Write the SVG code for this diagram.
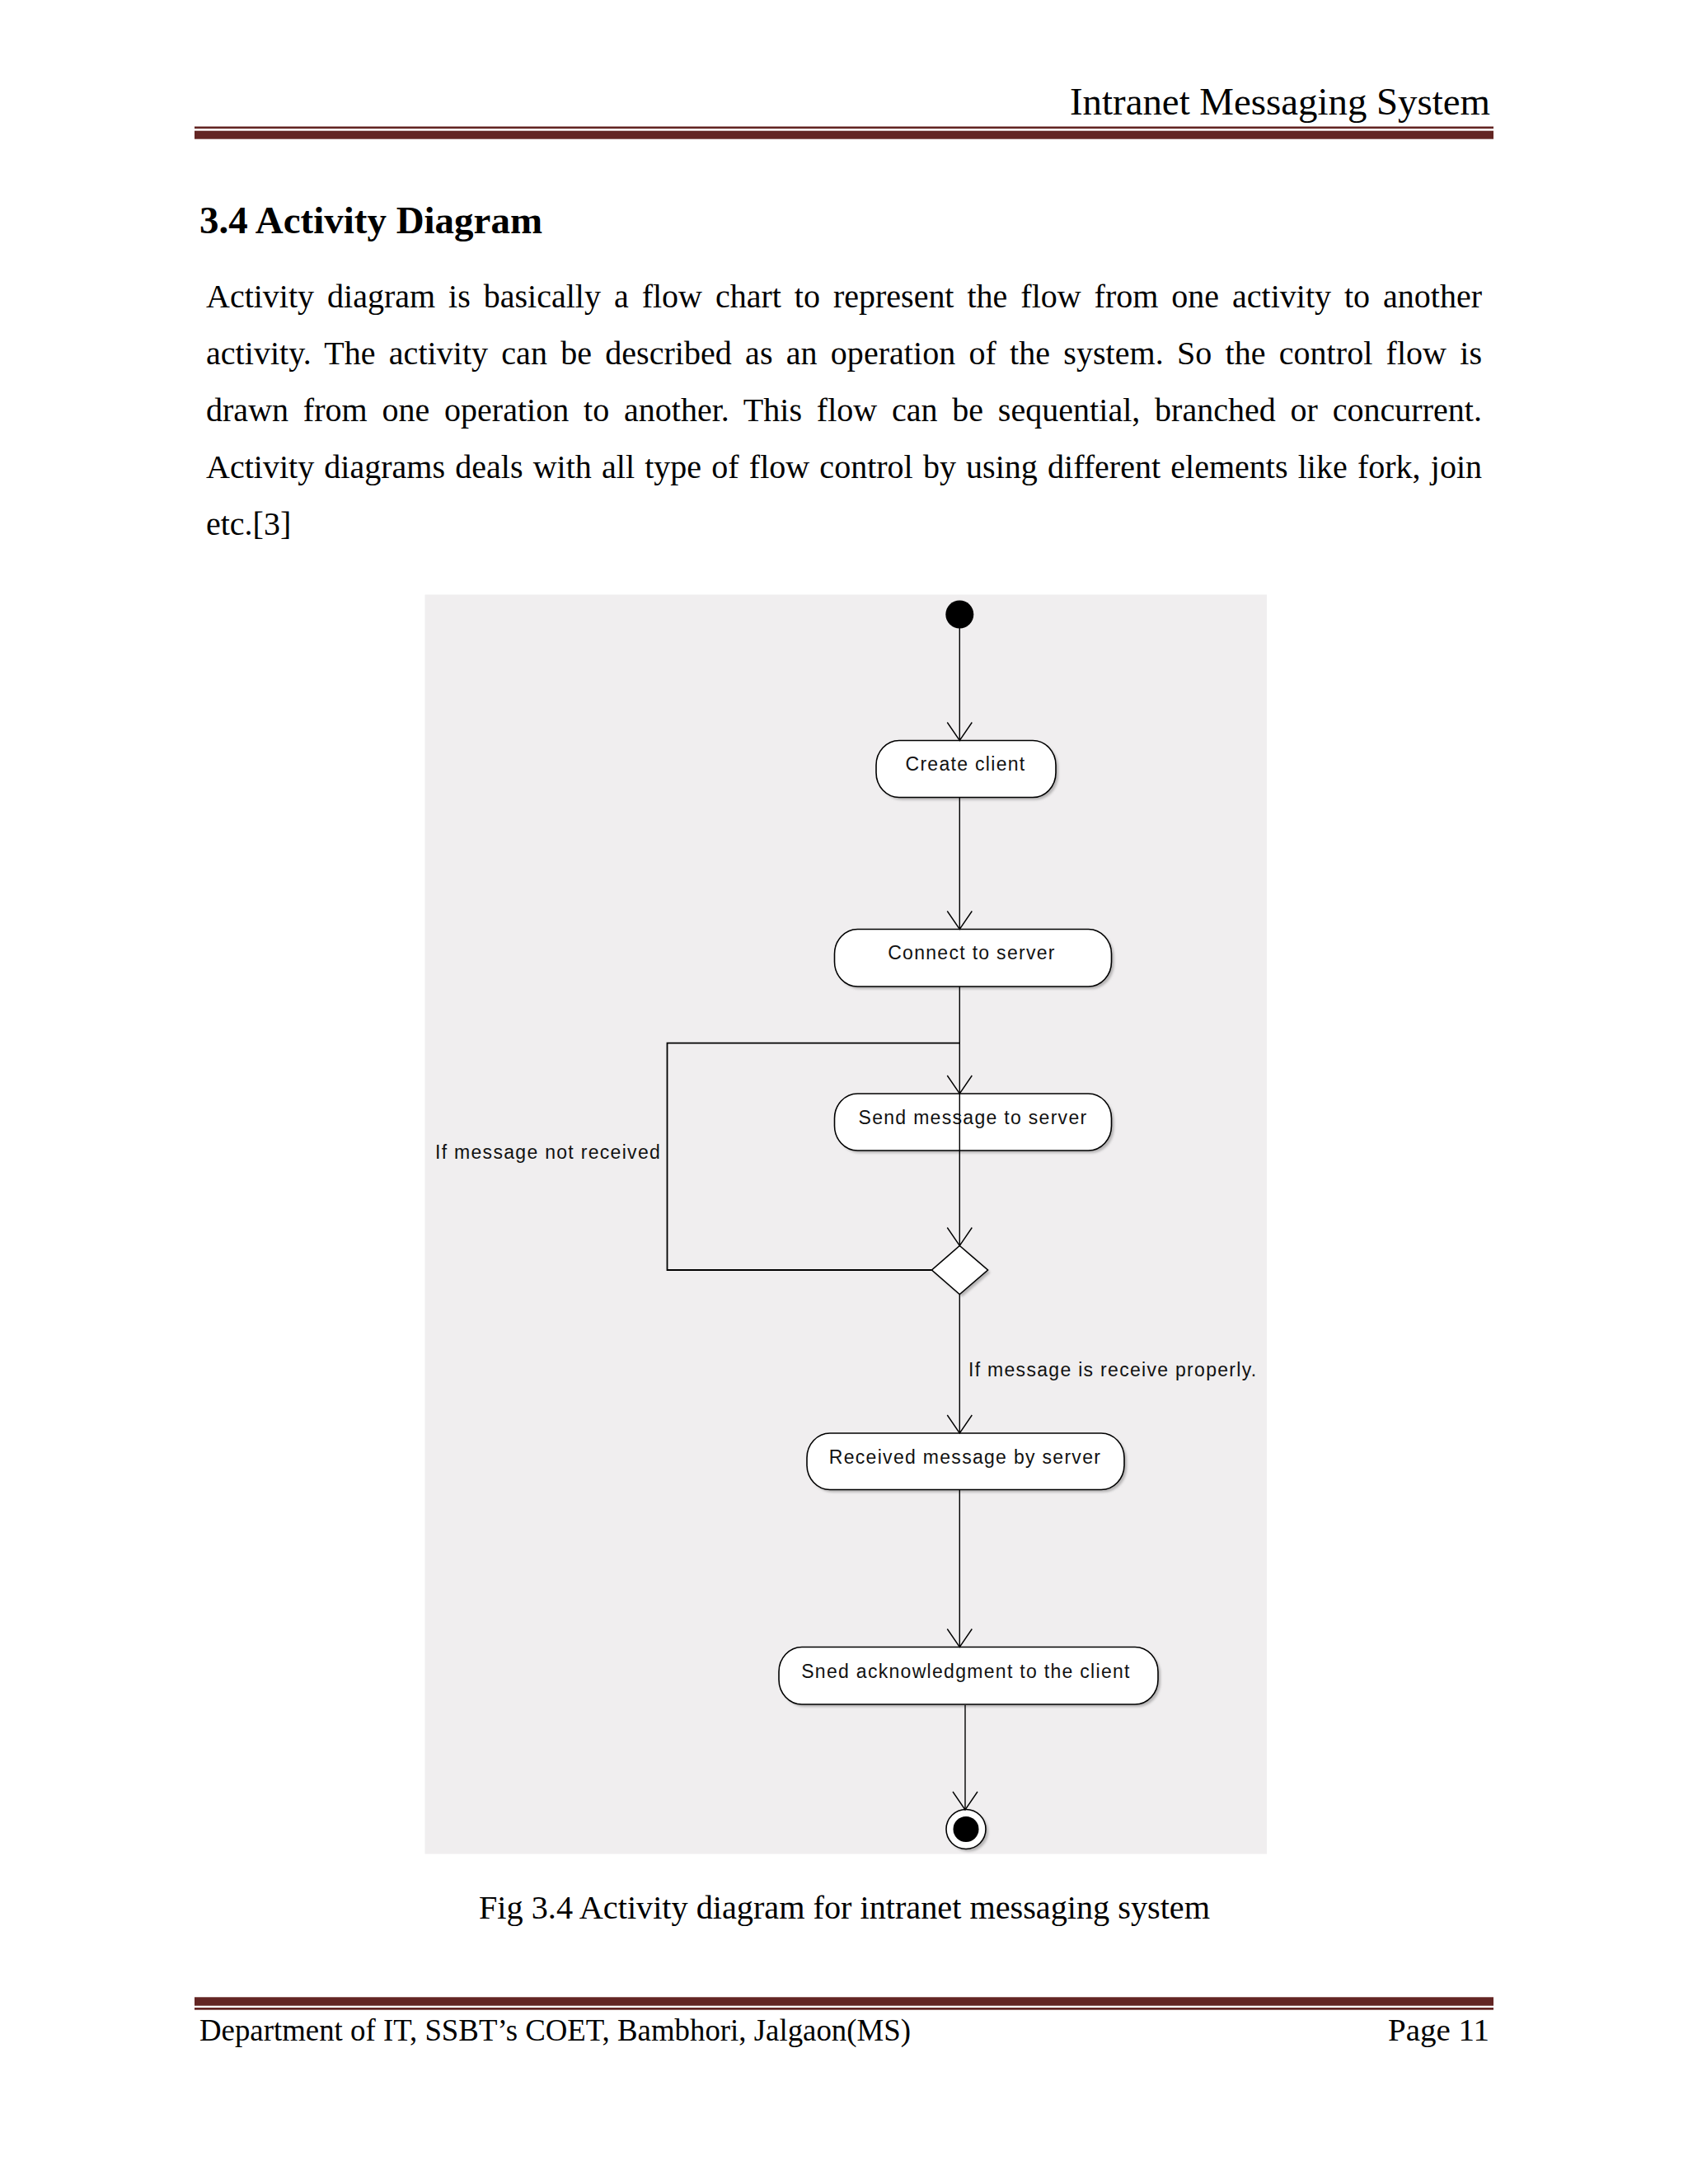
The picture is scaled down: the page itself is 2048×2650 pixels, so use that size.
<svg xmlns="http://www.w3.org/2000/svg" width="2048" height="2650" viewBox="0 0 2048 2650">
<defs>
<style>
.page{font-family:"Liberation Serif","Times New Roman",serif;fill:#000}
.body{font-size:40px}
.lbl{font-family:"Liberation Sans",Arial,sans-serif;font-size:23px;letter-spacing:1.3px;fill:#111}
.node{fill:#fff;stroke:#000;stroke-width:1.6}
.shadow{fill:#b4b2b3;filter:url(#blur)}
.conn{fill:none;stroke:#000;stroke-width:1.4}
.loop{stroke-width:1.8}
.bar{fill:#632523}
</style>
<filter id="blur" x="-10%" y="-20%" width="130%" height="150%"><feGaussianBlur stdDeviation="1.4"/></filter>
<marker id="arr" markerUnits="userSpaceOnUse" orient="auto" refX="0" refY="0" markerWidth="30" markerHeight="40" style="overflow:visible"><path d="M-22,-15 L0,0 L-22,15" fill="none" stroke="#000" stroke-width="1.4"/></marker>
</defs>
<rect x="0" y="0" width="2048" height="2650" fill="#ffffff"/>

<g id="page-header">
<text class="page" x="1298" y="139" font-size="47" textLength="510" lengthAdjust="spacingAndGlyphs">Intranet Messaging System</text>
<rect class="bar" x="236" y="153.5" width="1576" height="2.6"/>
<rect class="bar" x="236" y="158.7" width="1576" height="10"/>
</g>

<g id="section-text">
<text class="page" x="242" y="283" font-size="46" font-weight="bold" textLength="416" lengthAdjust="spacingAndGlyphs">3.4 Activity Diagram</text>
<text class="page body" x="250" y="373" word-spacing="6" textLength="1548" lengthAdjust="spacing">Activity diagram is basically a flow chart to represent the flow from one activity to another</text>
<text class="page body" x="250" y="442" word-spacing="6.2" textLength="1548" lengthAdjust="spacing">activity. The activity can be described as an operation of the system. So the control flow is</text>
<text class="page body" x="250" y="511" word-spacing="7.7" textLength="1548" lengthAdjust="spacing">drawn from one operation to another. This flow can be sequential, branched or concurrent.</text>
<text class="page body" x="250" y="580" word-spacing="2.2" textLength="1548" lengthAdjust="spacing">Activity diagrams deals with all type of flow control by using different elements like fork, join</text>
<text class="page body" x="250" y="649">etc.[3]</text>
</g>

<rect id="diagram-bg" x="515.5" y="721.5" width="1021.5" height="1528" fill="#f0eeef"/>

<g id="initial">
<circle cx="1164.3" cy="745.5" r="17" fill="#000"/>
</g>

<g id="create-client">
<rect class="shadow" x="1066" y="901.5" width="218" height="69" rx="28" ry="30"/>
<rect class="node" x="1063" y="898.5" width="218" height="69" rx="28" ry="30"/>
<text class="lbl" x="1171.5" y="935" text-anchor="middle">Create client</text>
</g>

<g id="connect-server">
<rect class="shadow" x="1015.5" y="1130.5" width="336" height="69.5" rx="28" ry="30"/>
<rect class="node" x="1012.5" y="1127.5" width="336" height="69.5" rx="28" ry="30"/>
<text class="lbl" x="1179" y="1164" text-anchor="middle">Connect to server</text>
</g>

<g id="send-message">
<rect class="shadow" x="1015.5" y="1330" width="336" height="69" rx="28" ry="30"/>
<rect class="node" x="1012.5" y="1327" width="336" height="69" rx="28" ry="30"/>
<text class="lbl" x="1180.5" y="1364" text-anchor="middle">Send message to server</text>
</g>

<g id="decision">
<polygon class="shadow" points="1167.3,1514.5 1201.5,1544 1167.3,1573.5 1133.5,1544"/>
<polygon class="node" points="1164.3,1511.5 1198.5,1541 1164.3,1570.5 1130.5,1541"/>
</g>

<g id="received-message">
<rect class="shadow" x="982" y="1742" width="385" height="68.5" rx="28" ry="30"/>
<rect class="node" x="979" y="1739" width="385" height="68.5" rx="28" ry="30"/>
<text class="lbl" x="1171" y="1776" text-anchor="middle">Received message by server</text>
</g>

<g id="send-ack">
<rect class="shadow" x="948" y="2001.5" width="460" height="69.5" rx="28" ry="30"/>
<rect class="node" x="945" y="1998.5" width="460" height="69.5" rx="28" ry="30"/>
<text class="lbl" x="1172" y="2036" text-anchor="middle">Sned acknowledgment to the client</text>
</g>

<g id="final">
<circle class="shadow" cx="1175" cy="2222.5" r="24"/>
<circle cx="1172" cy="2219.5" r="24" fill="#fff" stroke="#000" stroke-width="1.6"/>
<circle cx="1172" cy="2219.5" r="15.5" fill="#000"/>
</g>

<g id="connectors">
<path class="conn" d="M1164.3,762 V898.5" marker-end="url(#arr)"/>
<path class="conn" d="M1164.3,967.5 V1127.5" marker-end="url(#arr)"/>
<path class="conn" d="M1164.3,1197 V1327" marker-end="url(#arr)"/>
<path class="conn" d="M1164.3,1327 V1511.5" marker-end="url(#arr)"/>
<path class="conn loop" d="M1130.5,1541 H809.5 V1265.7 H1164.3"/>
<path class="conn" d="M1164.3,1570.5 V1739" marker-end="url(#arr)"/>
<path class="conn" d="M1164.3,1807.5 V1998.5" marker-end="url(#arr)"/>
<path class="conn" d="M1171,2069 V2196" marker-end="url(#arr)"/>
<text class="lbl" x="528" y="1405.7">If message not received</text>
<text class="lbl" x="1175" y="1670">If message is receive properly.</text>
</g>

<g id="caption">
<text class="page" x="581" y="2328" font-size="40" textLength="887" lengthAdjust="spacingAndGlyphs">Fig 3.4 Activity diagram for intranet messaging system</text>
</g>

<g id="page-footer">
<rect class="bar" x="236" y="2423.3" width="1576" height="10.4"/>
<rect class="bar" x="236" y="2436" width="1576" height="2.7"/>
<text class="page" x="242" y="2476" font-size="37" textLength="863" lengthAdjust="spacingAndGlyphs">Department of IT, SSBT’s COET, Bambhori, Jalgaon(MS)</text>
<text class="page" x="1684" y="2476" font-size="37" textLength="123" lengthAdjust="spacingAndGlyphs">Page 11</text>
</g>
</svg>
